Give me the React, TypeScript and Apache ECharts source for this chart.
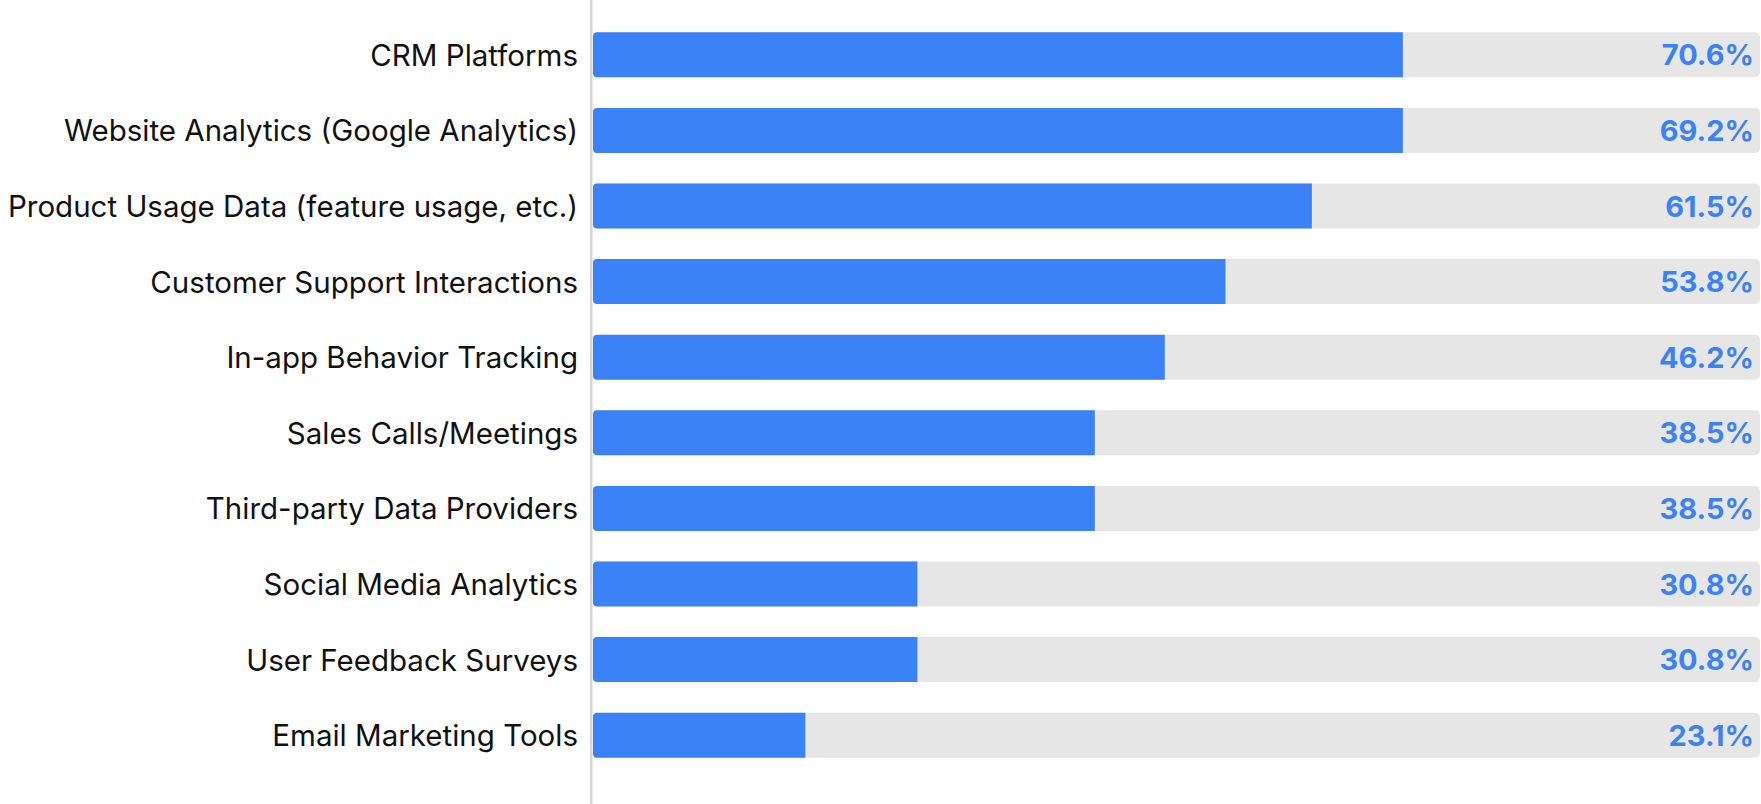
import React, { useEffect, useRef } from "react";
import * as echarts from "echarts";

const categories = [
  "CRM Platforms",
  "Website Analytics (Google Analytics)",
  "Product Usage Data (feature usage, etc.)",
  "Customer Support Interactions",
  "In-app Behavior Tracking",
  "Sales Calls/Meetings",
  "Third-party Data Providers",
  "Social Media Analytics",
  "User Feedback Surveys",
  "Email Marketing Tools",
];

// bar lengths as drawn (share of the full track)
const barLengths = [69.4, 69.4, 61.6, 54.2, 49.0, 43.0, 43.0, 27.8, 27.8, 18.2];

// value labels printed at the right end of each track
const valueLabels = ["70.6%", "69.2%", "61.5%", "53.8%", "46.2%", "38.5%", "38.5%", "30.8%", "30.8%", "23.1%"];

const trackMax = 100;

export default function App() {
  const ref = useRef<HTMLDivElement>(null);

  useEffect(() => {
    if (!ref.current) return;
    const chart = echarts.init(ref.current, null, { renderer: "svg" });
    chart.setOption({
      animation: false,
      backgroundColor: "#ffffff",
      textStyle: { fontFamily: "Inter" },
      grid: {
        left: 593,
        right: 1,
        top: 17,
        bottom: 31,
        containLabel: false,
        outerBoundsMode: "none",
      },
      xAxis: {
        type: "value",
        min: 0,
        max: trackMax,
        show: false,
      },
      yAxis: [
        {
          type: "category",
          data: categories,
          inverse: true,
          axisLine: { show: false },
          axisTick: { show: false },
          splitLine: { show: false },
          axisLabel: {
            margin: 15,
            fontSize: 29.5,
            fontFamily: "Inter",
            color: "#111111",
          },
        },
        {
          type: "category",
          data: valueLabels,
          inverse: true,
          position: "right",
          axisLine: { show: false },
          axisTick: { show: false },
          splitLine: { show: false },
          axisLabel: {
            inside: true,
            margin: 6,
            fontSize: 29,
            fontWeight: "bold",
            fontFamily: "Inter",
            color: "#3b82f6",
          },
          z: 10,
        },
      ],
      graphic: [
        {
          type: "rect",
          shape: { x: 590, y: 0, width: 2.5, height: 804 },
          style: { fill: "#d6d6d6" },
          z: 0,
        },
      ],
      series: [
        {
          type: "bar",
          data: barLengths,
          barWidth: 45,
          yAxisIndex: 0,
          itemStyle: { color: "#3b82f6", borderRadius: [4, 0, 0, 4] },
          showBackground: true,
          backgroundStyle: { color: "#e6e6e6", borderRadius: 5 },
          z: 2,
        },
      ],
    });
    return () => chart.dispose();
  }, []);

  return (
    <div
      ref={ref}
      style={{ position: "fixed", left: 0, top: 0, width: 1761, height: 804 }}
    />
  );
}
